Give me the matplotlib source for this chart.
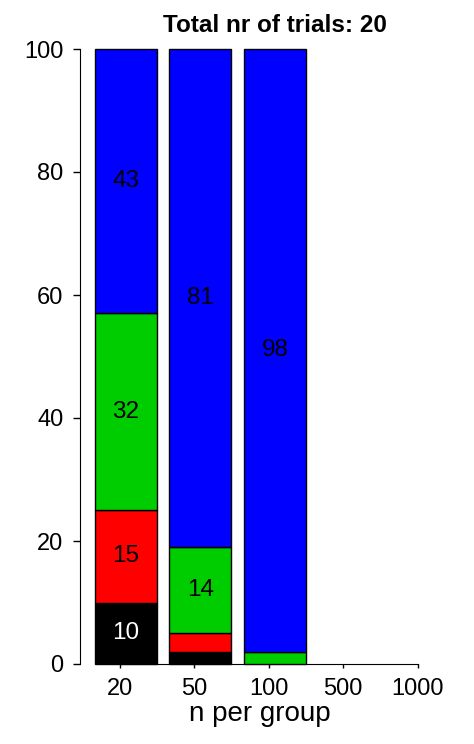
import matplotlib
matplotlib.use('Agg')
import matplotlib.pyplot as plt
import numpy as np

plt.rcParams['font.family'] = ['Liberation Sans', 'DejaVu Sans']

groups = ['20', '50', '100', '500', '1000']
black = [10, 2, 0, 0, 0]
red = [15, 3, 0, 0, 0]
green = [32, 14, 2, 0, 0]
blue = [43, 81, 98, 0, 0]

layers = [black, red, green, blue]
colors = ['black', '#ff0000', '#00cd00', '#0000ff']
text_colors = ['white', 'black', 'black', 'black']

# R barplot style positions: width 1, space 0.2
x = 0.7 + 1.2 * np.arange(len(groups))

fig = plt.figure(figsize=(4.74, 7.44), dpi=100)
ax = fig.add_axes([80 / 474, 80 / 744, 360 / 474, 615 / 744])

bottom = np.zeros(len(groups))
for vals, col, tcol in zip(layers, colors, text_colors):
    vals = np.array(vals, dtype=float)
    keep = vals > 0
    ax.bar(x[keep], vals[keep], width=1.0, bottom=bottom[keep], color=col,
           edgecolor='black', linewidth=1.0, clip_on=False)
    for xi, b, v in zip(x, bottom, vals):
        if v >= 10:
            ax.text(xi, b + v / 2, f'{v:.0f}', ha='center', va='center',
                    fontsize=17.5, color=tcol)
    bottom += vals

ax.set_xlim(-0.04, 5.76)
ax.set_ylim(0, 100)

for s in ['top', 'right']:
    ax.spines[s].set_visible(False)
ax.spines['left'].set_bounds(0, 100)
ax.spines['left'].set_position(('data', -0.04))
tick_x = x - 0.1
ax.spines['bottom'].set_bounds(tick_x[0], tick_x[-1])
ax.spines['bottom'].set_zorder(0)

ax.set_yticks([0, 20, 40, 60, 80, 100])
ax.set_xticks(tick_x)
ax.set_xticklabels(groups)
ax.tick_params(axis='y', length=5, width=1, pad=7, labelsize=17)
ax.tick_params(axis='x', length=3, width=1, pad=7, labelsize=17)

ax.set_xlabel('n per group', fontsize=20, labelpad=1)
ax.set_title('Total nr of trials: 20', fontsize=17.5, fontweight='bold',
             x=(275 - 80) / 360, pad=12)

fig.savefig('out.png', dpi=100)
